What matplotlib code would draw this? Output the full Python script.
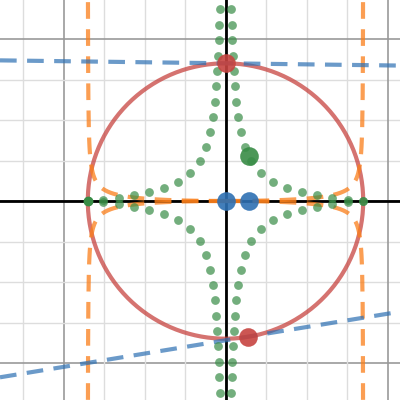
import numpy as np
import matplotlib
matplotlib.use("Agg")
import matplotlib.pyplot as plt

R = 3.4
red_pts_x = [0.0, 0.55]
red_pts_y = [3.4, -3.35]
blue_pts_x = [0.0, 0.57]
blue_pts_y = [0.0, 0.0]
green_pt = (0.58, 1.1)
line_top = (3.4, -0.013)      # intercept, slope
line_bot = (-3.44, 0.164)

fig = plt.figure(figsize=(4, 4), dpi=100)
ax = fig.add_axes([0, 0, 1, 1])
xmin, xmax = -225.5/40.5, 174.5/40.5
ymin, ymax = -199/40.5, 201/40.5
ax.set_xlim(xmin, xmax); ax.set_ylim(ymin, ymax)
ax.axis('off')
for v in range(-6, 6):
    c, lw = ('#999999', 1.2) if v % 4 == 0 else ('#dddddd', 1.0)
    ax.axvline(v, color=c, lw=lw, zorder=0)
    ax.axhline(v, color=c, lw=lw, zorder=0)
ax.axvline(0, color='black', lw=2, zorder=1)
ax.axhline(0, color='black', lw=2, zorder=1)

# circle
t = np.linspace(0, 2*np.pi, 400)
ax.plot(R*np.cos(t), R*np.sin(t), color='#c74440', alpha=0.75, lw=3, zorder=3)

# orange curves
u = np.concatenate([np.linspace(0, 0.99, 200), 1 - np.logspace(-2, -5, 200)])
xo = R*np.sqrt(u)
yo = 0.25*(1/np.sqrt(1-u) - 1)
for sx in (1, -1):
    for sy in (1, -1):
        ax.plot(sx*xo, sy*yo, color='#fa7e19', alpha=0.75, lw=3, ls=(0, (4, 2.5)), zorder=4)

# green dotted curve
xs = np.concatenate([np.logspace(np.log10(0.12), np.log10(3.0), 400), np.linspace(3.0, R, 200)])
ys = 0.66/xs*(1-(xs/R)**2)**1.3
d = np.concatenate([[0], np.cumsum(np.hypot(np.diff(xs), np.diff(ys)))])
s = np.arange(0, d[-1], 0.38)
gx = np.interp(s, d, xs); gy = np.interp(s, d, ys)
for sx in (1, -1):
    for sy in (1, -1):
        ax.scatter(sx*gx, sy*gy, s=40, color='#388c46', alpha=0.7, lw=0, zorder=5)

# tangent lines
xl = np.array([xmin, xmax])
for b, m in (line_top, line_bot):
    ax.plot(xl, b + m*xl, color='#2d70b3', alpha=0.7, lw=3, ls=(0, (4, 2.5)), zorder=4)

ax.scatter(red_pts_x, red_pts_y, s=180, color='#c74440', alpha=0.9, lw=0, zorder=6)
ax.scatter(blue_pts_x, blue_pts_y, s=180, color='#2d70b3', alpha=0.9, lw=0, zorder=6)
ax.scatter([green_pt[0]], [green_pt[1]], s=180, color='#388c46', alpha=0.9, lw=0, zorder=6)
ax.scatter([-R], [0], s=50, color='#388c46', zorder=6, lw=0)

fig.savefig('out.png', dpi=100)
